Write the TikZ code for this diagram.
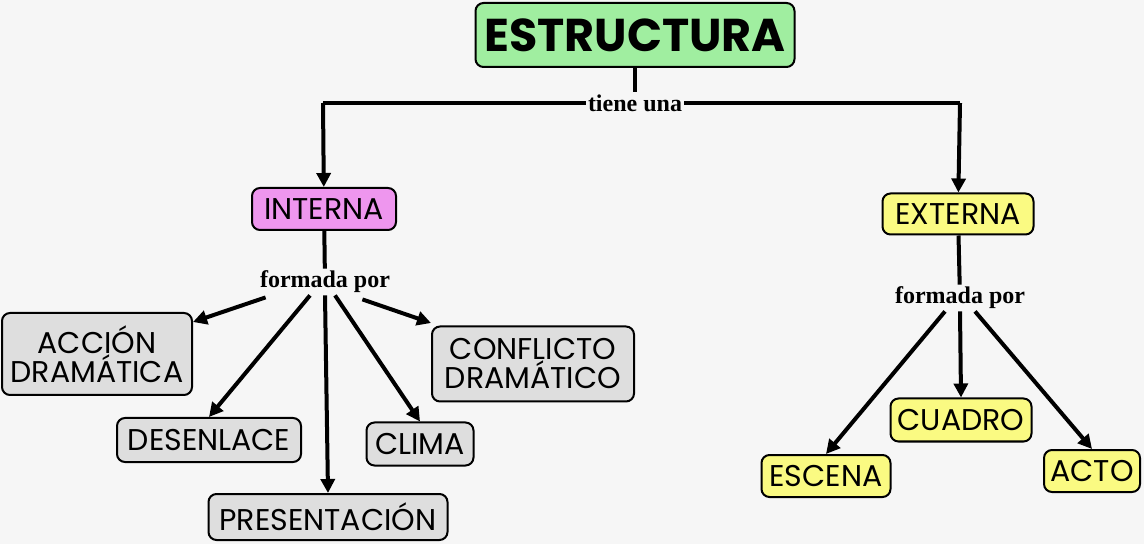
\documentclass[tikz,border=0pt]{standalone}
\usepackage{fontspec}
\setmainfont{Liberation Serif}
\newfontfamily\boxfont{Poppins}
\usetikzlibrary{positioning}
\usetikzlibrary{arrows.meta}
\definecolor{bg}{RGB}{246, 246, 246}
\definecolor{cg}{RGB}{160, 238, 160}
\definecolor{cp}{RGB}{238, 150, 238}
\definecolor{cy}{RGB}{250, 250, 130}
\definecolor{cl}{RGB}{222, 222, 222}
\tikzset{
  concept/.style={draw=black, line width=1pt, rounded corners=4pt, align=center,
    font=\boxfont\fontsize{15}{14.5}\selectfont, inner sep=0pt},
  link/.style={font=\bfseries\fontsize{12}{12}\selectfont, fill=bg, inner sep=1pt},
  arr/.style={line width=2pt, -{Triangle[length=7pt, width=7pt]}},
  ln/.style={line width=2pt}
}
\begin{document}
\begin{tikzpicture}[x=0.5pt, y=-0.5pt]
\fill[bg] (0,0) rectangle (1144,544);
\useasboundingbox (0,0) rectangle (1144,544);
\node (est) [concept, fill=cg, minimum width=159.5pt, minimum height=32pt, font=\boxfont\bfseries\fontsize{23}{22}\selectfont] at (635,35) {ESTRUCTURA};
\node (tiene) [link] at (635,103) {tiene una};
\node (int) [concept, fill=cp, minimum width=72pt, minimum height=21pt] at (324,209) {INTERNA};
\node (ext) [concept, fill=cy, minimum width=75.5pt, minimum height=20.5pt] at (958,214) {EXTERNA};
\node (fl) [link] at (325,282) {formada por};
\node (fr) [link] at (960,298) {formada por};
\node (acc) [concept, fill=cl, minimum width=95pt, minimum height=41pt] at (97,354) {ACCIÓN\\DRAMÁTICA};
\node (des) [concept, fill=cl, minimum width=92pt, minimum height=22pt] at (209,440) {DESENLACE};
\node (pre) [concept, fill=cl, minimum width=119.5pt, minimum height=23pt] at (328,517) {PRESENTACIÓN};
\node (cli) [concept, fill=cl, minimum width=53.5pt, minimum height=21.5pt] at (420,444) {CLIMA};
\node (con) [concept, fill=cl, minimum width=101pt, minimum height=37.5pt] at (533,364) {CONFLICTO\\DRAMÁTICO};
\node (esc) [concept, fill=cy, minimum width=64.5pt, minimum height=21pt] at (826,476) {ESCENA};
\node (cua) [concept, fill=cy, minimum width=70.5pt, minimum height=21.5pt] at (961,420) {CUADRO};
\node (act) [concept, fill=cy, minimum width=48pt, minimum height=21pt] at (1092,471) {ACTO};
\coordinate (tl) at (323,103);
\coordinate (tr) at (960,103);
\draw [ln] (est) -- (tiene);
\draw [ln] (tiene) -- (tl);
\draw [ln] (tiene) -- (tr);
\draw [arr] (tl) -- (int);
\draw [arr] (tr) -- (ext);
\draw [ln] (int) -- (fl);
\draw [ln] (ext) -- (fr);
\draw [arr] (fl.south west) ++(8,2) -- (acc.east |- 0,322);
\draw [arr] (fl.south) ++(-15,0) -- (des.north);
\draw [arr] (fl.south) -- (pre.north);
\draw [arr] (fl.south) ++(10,0) -- (cli.north);
\draw [arr] (fl.south east) ++(-30,4) -- (con.west |- 0,323);
\draw [arr] (fr.south) ++(-15,0) -- (esc.north);
\draw [arr] (fr.south) -- (cua.north);
\draw [arr] (fr.south) ++(15,0) -- (act.north);
\end{tikzpicture}
\end{document}
